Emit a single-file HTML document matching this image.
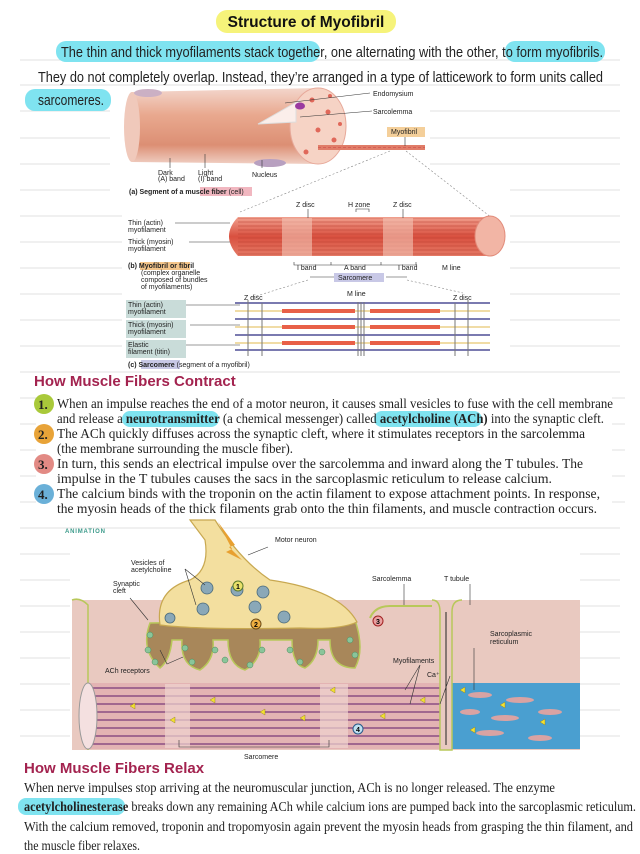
<!DOCTYPE html>
<html><head><meta charset="utf-8"><style>
html,body{margin:0;padding:0;background:#fff;}
svg{display:block;}
.hw{font-family:"Liberation Sans Narrow","Liberation Sans",sans-serif;font-size:15px;fill:#222;}
.lb{font-family:"Liberation Sans",sans-serif;font-size:7px;fill:#222;}
.sf{font-family:"Liberation Serif",serif;font-size:14px;fill:#222;}
.hd{font-family:"Liberation Sans",sans-serif;font-weight:bold;font-size:15px;fill:#a3234f;}
.num{font-family:"Liberation Serif",serif;font-weight:bold;font-size:13px;fill:#222;}
</style></head><body>
<svg width="640" height="854" viewBox="0 0 640 854" xmlns="http://www.w3.org/2000/svg">
<g stroke="#e2e2e2" stroke-width="1">
<line x1="20" y1="60" x2="620" y2="60"/>
<line x1="20" y1="85" x2="620" y2="85"/>
<line x1="20" y1="111" x2="110" y2="111"/><line x1="430" y1="111" x2="620" y2="111"/>
<line x1="20" y1="138" x2="110" y2="138"/><line x1="430" y1="138" x2="620" y2="138"/>
<line x1="20" y1="164" x2="110" y2="164"/><line x1="430" y1="164" x2="620" y2="164"/>
<line x1="20" y1="190" x2="110" y2="190"/><line x1="510" y1="190" x2="620" y2="190"/>
<line x1="20" y1="216" x2="122" y2="216"/><line x1="510" y1="216" x2="620" y2="216"/>
<line x1="20" y1="242" x2="122" y2="242"/><line x1="510" y1="242" x2="620" y2="242"/>
<line x1="20" y1="268" x2="122" y2="268"/><line x1="510" y1="268" x2="620" y2="268"/>
<line x1="20" y1="294" x2="122" y2="294"/><line x1="510" y1="294" x2="620" y2="294"/>
<line x1="20" y1="320" x2="122" y2="320"/><line x1="510" y1="320" x2="620" y2="320"/>
<line x1="20" y1="346" x2="122" y2="346"/><line x1="510" y1="346" x2="620" y2="346"/>
<line x1="20" y1="372" x2="620" y2="372"/>
<line x1="20" y1="398" x2="36" y2="398"/><line x1="612" y1="398" x2="625" y2="398"/>
<line x1="20" y1="424" x2="36" y2="424"/><line x1="612" y1="424" x2="625" y2="424"/>
<line x1="20" y1="450" x2="36" y2="450"/><line x1="612" y1="450" x2="625" y2="450"/>
<line x1="20" y1="476" x2="36" y2="476"/><line x1="612" y1="476" x2="625" y2="476"/>
<line x1="20" y1="502" x2="36" y2="502"/><line x1="612" y1="502" x2="625" y2="502"/>
<line x1="20" y1="528" x2="620" y2="528"/>
<line x1="20" y1="554" x2="70" y2="554"/><line x1="580" y1="554" x2="620" y2="554"/>
<line x1="20" y1="580" x2="70" y2="580"/><line x1="580" y1="580" x2="620" y2="580"/>
<line x1="20" y1="606" x2="70" y2="606"/><line x1="580" y1="606" x2="620" y2="606"/>
<line x1="20" y1="632" x2="70" y2="632"/><line x1="580" y1="632" x2="620" y2="632"/>
<line x1="20" y1="658" x2="70" y2="658"/><line x1="580" y1="658" x2="620" y2="658"/>
<line x1="20" y1="684" x2="70" y2="684"/><line x1="580" y1="684" x2="620" y2="684"/>
<line x1="20" y1="710" x2="70" y2="710"/><line x1="580" y1="710" x2="620" y2="710"/>
<line x1="20" y1="736" x2="70" y2="736"/><line x1="580" y1="736" x2="620" y2="736"/>
</g>

<rect x="216" y="10" width="180" height="23" rx="11" fill="#f6f37a"/>
<text x="306" y="27" text-anchor="middle" font-family="Liberation Sans,sans-serif" font-weight="bold" font-size="15.5" fill="#111">Structure of Myofibril</text>

<rect x="56" y="41" width="264" height="21" rx="10" fill="#7fe3f0"/>
<rect x="505" y="41" width="100" height="21" rx="10" fill="#7fe3f0"/>
<rect x="25" y="89" width="86" height="22" rx="10" fill="#7fe3f0"/>
<text class="hw" x="61" y="57" textLength="542" lengthAdjust="spacingAndGlyphs">The thin and thick myofilaments stack together, one alternating with the other, to form myofibrils.</text>
<text class="hw" x="38" y="82" textLength="565" lengthAdjust="spacingAndGlyphs">They do not completely overlap. Instead, they’re arranged in a type of latticework to form units called</text>
<text class="hw" x="38" y="105" textLength="66" lengthAdjust="spacingAndGlyphs">sarcomeres.</text>

<defs>
<linearGradient id="fib" x1="0" y1="0" x2="0" y2="1">
<stop offset="0" stop-color="#f3d6cc"/><stop offset="0.35" stop-color="#e9a98f"/><stop offset="0.75" stop-color="#dc8f74"/><stop offset="1" stop-color="#f0cfc3"/></linearGradient>
<linearGradient id="mf" x1="0" y1="0" x2="0" y2="1">
<stop offset="0" stop-color="#f1a08e"/><stop offset="0.5" stop-color="#d9503f"/><stop offset="1" stop-color="#e47a66"/></linearGradient>
<pattern id="stripes" width="6" height="4" patternUnits="userSpaceOnUse"><line x1="0" y1="2" x2="6" y2="2" stroke="#b83a2c" stroke-width="0.8"/></pattern>
</defs>
<!-- (a) -->
<path d="M132 92 L318 88 L318 164 L132 162 Z" fill="url(#fib)"/>
<ellipse cx="132" cy="127" rx="8" ry="35" fill="#f0c9bb"/>
<ellipse cx="148" cy="93" rx="14" ry="4" fill="#cbb0c4"/>
<ellipse cx="270" cy="163" rx="16" ry="4" fill="#b8a0c0"/>
<ellipse cx="318" cy="126" rx="28" ry="38" fill="#f6d3c5" stroke="#e7a99a"/>
<g fill="#e0685a"><circle cx="312" cy="100" r="2.5"/><circle cx="328" cy="112" r="2.5"/><circle cx="318" cy="130" r="2.5"/><circle cx="334" cy="140" r="2.5"/><circle cx="306" cy="152" r="2.5"/><circle cx="330" cy="96" r="2"/><circle cx="340" cy="124" r="2"/></g>
<path d="M300 100 L296 108 L296 122 L258 124 Z" fill="#fbeeea" stroke="#ddd"/>
<ellipse cx="300" cy="106" rx="5" ry="3.5" fill="#9a3aa0"/>
<rect x="318" y="145" width="107" height="5" fill="#e07d68"/>
<line x1="318" y1="147.5" x2="425" y2="147.5" stroke="#c44" stroke-width="0.6" stroke-dasharray="3 2"/>
<g stroke="#333" stroke-width="0.6"><line x1="285" y1="103" x2="370" y2="93"/><line x1="300" y1="117" x2="372" y2="111"/><line x1="405" y1="137" x2="405" y2="146"/><line x1="170" y1="158" x2="170" y2="168"/><line x1="205" y1="154" x2="205" y2="168"/><line x1="262" y1="160" x2="262" y2="168"/></g>
<text class="lb" x="373" y="96">Endomysium</text>
<text class="lb" x="373" y="114">Sarcolemma</text>
<rect x="387" y="127" width="38" height="10" fill="#f4cf9a"/>
<text class="lb" x="391" y="134">Myofibril</text>
<text class="lb" x="158" y="175">Dark</text><text class="lb" x="158" y="181">(A) band</text>
<text class="lb" x="198" y="175">Light</text><text class="lb" x="198" y="181">(I) band</text>
<text class="lb" x="252" y="177">Nucleus</text>
<rect x="200" y="187" width="52" height="9" fill="#f1b7c0"/>
<text class="lb" x="129" y="194" font-weight="bold">(a) Segment of a muscle fiber <tspan font-weight="normal">(cell)</tspan></text>
<g stroke="#888" stroke-width="0.6" stroke-dasharray="2 2" fill="none"><line x1="390" y1="151" x2="240" y2="212"/><line x1="406" y1="151" x2="492" y2="218"/><line x1="308" y1="280" x2="250" y2="298"/><line x1="407" y1="280" x2="463" y2="293"/></g>

<!-- (b) -->
<path d="M238 217 L490 217 L490 256 L238 256 Q220 236 238 217Z" fill="url(#mf)"/>
<rect x="238" y="218" width="252" height="38" fill="url(#stripes)" opacity="0.6"/>
<rect x="282" y="218" width="30" height="38" fill="#f3c4b6" opacity="0.6"/>
<rect x="383" y="218" width="30" height="38" fill="#f3c4b6" opacity="0.6"/>
<ellipse cx="490" cy="236" rx="15" ry="20" fill="#f2b5a5" stroke="#e28b7a"/>
<g stroke="#333" stroke-width="0.6" fill="none"><line x1="175" y1="223" x2="230" y2="223"/><line x1="189" y1="242" x2="230" y2="242"/>
<path d="M294 262 v3 h37 v-3 M331 265 h50 v-3 M381 265 h35 v-3"/><line x1="308" y1="209" x2="308" y2="218"/><line x1="403" y1="209" x2="403" y2="218"/><path d="M356 212 v-3 h13 v3"/>
<line x1="310" y1="277" x2="335" y2="277"/><line x1="386" y1="277" x2="407" y2="277"/></g>
<text class="lb" x="296" y="207">Z disc</text><text class="lb" x="348" y="207">H zone</text><text class="lb" x="393" y="207">Z disc</text>
<text class="lb" x="128" y="225">Thin (actin)</text><text class="lb" x="128" y="232">myofilament</text>
<text class="lb" x="128" y="244">Thick (myosin)</text><text class="lb" x="128" y="251">myofilament</text>
<rect x="140" y="262" width="50" height="8" fill="#f4c58a"/>
<text class="lb" x="128" y="268" font-weight="bold">(b) Myofibril or fibril</text>
<text class="lb" x="141" y="275">(complex organelle</text><text class="lb" x="141" y="282">composed of bundles</text><text class="lb" x="141" y="289">of myofilaments)</text>
<text class="lb" x="297" y="270">I band</text><text class="lb" x="344" y="270">A band</text><text class="lb" x="398" y="270">I band</text><text class="lb" x="442" y="270">M line</text>
<rect x="334" y="273" width="50" height="9" fill="#c8c8e6"/>
<text class="lb" x="338" y="280">Sarcomere</text>

<!-- (c) -->
<text class="lb" x="244" y="300">Z disc</text><text class="lb" x="347" y="296">M line</text><text class="lb" x="453" y="300">Z disc</text>
<g stroke="#7a7ab0" stroke-width="2"><line x1="235" y1="303" x2="490" y2="303"/><line x1="235" y1="319" x2="490" y2="319"/><line x1="235" y1="335" x2="490" y2="335"/><line x1="235" y1="350" x2="490" y2="350"/></g>
<g stroke="#e8c870" stroke-width="1.2"><line x1="235" y1="311" x2="490" y2="311"/><line x1="235" y1="327" x2="490" y2="327"/><line x1="235" y1="343" x2="490" y2="343"/></g>
<g stroke="#e86048" stroke-width="4"><line x1="282" y1="311" x2="355" y2="311"/><line x1="370" y1="311" x2="440" y2="311"/><line x1="282" y1="327" x2="355" y2="327"/><line x1="370" y1="327" x2="440" y2="327"/><line x1="282" y1="343" x2="355" y2="343"/><line x1="370" y1="343" x2="440" y2="343"/></g>
<g stroke="#777" stroke-width="1"><line x1="248" y1="300" x2="248" y2="356"/><line x1="262" y1="303" x2="262" y2="356"/><line x1="358" y1="302" x2="358" y2="356"/><line x1="361" y1="302" x2="361" y2="356"/><line x1="364" y1="302" x2="364" y2="356"/><line x1="455" y1="303" x2="455" y2="356"/><line x1="468" y1="300" x2="468" y2="356"/></g>
<rect x="126" y="300" width="60" height="18" fill="#c9dcd9"/><rect x="126" y="320" width="60" height="18" fill="#c9dcd9"/><rect x="126" y="340" width="60" height="18" fill="#c9dcd9"/>
<g stroke="#333" stroke-width="0.6"><line x1="186" y1="305" x2="240" y2="305"/><line x1="190" y1="325" x2="240" y2="325"/><line x1="186" y1="345" x2="240" y2="345"/></g>
<text class="lb" x="128" y="307">Thin (actin)</text><text class="lb" x="128" y="314">myofilament</text>
<text class="lb" x="128" y="327">Thick (myosin)</text><text class="lb" x="128" y="334">myofilament</text>
<text class="lb" x="128" y="347">Elastic</text><text class="lb" x="128" y="354">filament (titin)</text>
<rect x="141" y="360" width="39" height="9" fill="#c8c8e6"/>
<text class="lb" x="128" y="367" font-weight="bold">(c) Sarcomere <tspan font-weight="normal">(segment of a myofibril)</tspan></text>

<!-- Contract -->
<text class="hd" x="34" y="386">How Muscle Fibers Contract</text>
<rect x="122" y="411" width="97" height="16" rx="8" fill="#7fe3f0"/>
<rect x="374" y="411" width="108" height="16" rx="8" fill="#7fe3f0"/>
<circle cx="44" cy="404" r="10" fill="#a9c93a"/><text class="num" x="38" y="409">1.</text>
<circle cx="44" cy="434" r="10" fill="#e8a338"/><text class="num" x="38" y="439">2.</text>
<circle cx="44" cy="464" r="10" fill="#e28a84"/><text class="num" x="38" y="469">3.</text>
<circle cx="44" cy="494" r="10" fill="#6ab0d8"/><text class="num" x="38" y="499">4.</text>
<text class="sf" x="57" y="408" textLength="556" lengthAdjust="spacingAndGlyphs">When an impulse reaches the end of a motor neuron, it causes small vesicles to fuse with the cell membrane</text>
<text class="sf" x="57" y="423" textLength="547" lengthAdjust="spacingAndGlyphs">and release a <tspan font-weight="bold">neurotransmitter</tspan> (a chemical messenger) called <tspan font-weight="bold">acetylcholine (ACh)</tspan> into the synaptic cleft.</text>
<text class="sf" x="57" y="438" textLength="528" lengthAdjust="spacingAndGlyphs">The ACh quickly diffuses across the synaptic cleft, where it stimulates receptors in the sarcolemma</text>
<text class="sf" x="57" y="453" textLength="236" lengthAdjust="spacingAndGlyphs">(the membrane surrounding the muscle fiber).</text>
<text class="sf" x="57" y="468" textLength="526" lengthAdjust="spacingAndGlyphs">In turn, this sends an electrical impulse over the sarcolemma and inward along the T tubules. The</text>
<text class="sf" x="57" y="483" textLength="495" lengthAdjust="spacingAndGlyphs">impulse in the T tubules causes the sacs in the sarcoplasmic reticulum to release calcium.</text>
<text class="sf" x="57" y="498" textLength="543" lengthAdjust="spacingAndGlyphs">The calcium binds with the troponin on the actin filament to expose attachment points. In response,</text>
<text class="sf" x="57" y="513" textLength="540" lengthAdjust="spacingAndGlyphs">the myosin heads of the thick filaments grab onto the thin filaments, and muscle contraction occurs.</text>

<!-- Animation diagram -->
<text x="65" y="533" font-family="Liberation Sans,sans-serif" font-weight="bold" font-size="6" fill="#3a9a8a" letter-spacing="0.8">ANIMATION</text>
<rect x="72" y="600" width="508" height="150" fill="#e9c9c0"/>
<path d="M72 600 Q80 597 88 605 L88 750" fill="none" stroke="#b8c85a" stroke-width="1.5"/>
<rect x="88" y="683" width="355" height="66" fill="#e3b3b3"/>
<g stroke="#7a3a7a" stroke-width="1.3">
<line x1="92" y1="688" x2="440" y2="688"/><line x1="92" y1="696" x2="440" y2="696"/><line x1="92" y1="704" x2="440" y2="704"/><line x1="92" y1="712" x2="440" y2="712"/><line x1="92" y1="720" x2="440" y2="720"/><line x1="92" y1="728" x2="440" y2="728"/><line x1="92" y1="736" x2="440" y2="736"/><line x1="92" y1="744" x2="440" y2="744"/></g>
<rect x="165" y="684" width="25" height="64" fill="#f0d4d0" opacity="0.7"/><rect x="320" y="684" width="28" height="64" fill="#f0d4d0" opacity="0.7"/>
<ellipse cx="88" cy="716" rx="9" ry="33" fill="#f4e0e0" stroke="#999"/>
<rect x="447" y="683" width="133" height="66" fill="#4a9fd0"/>
<g fill="#d9a3a3"><ellipse cx="480" cy="695" rx="12" ry="3"/><ellipse cx="520" cy="700" rx="14" ry="3"/><ellipse cx="470" cy="712" rx="10" ry="3"/><ellipse cx="505" cy="718" rx="14" ry="3"/><ellipse cx="550" cy="712" rx="12" ry="3"/><ellipse cx="490" cy="733" rx="14" ry="3"/><ellipse cx="540" cy="738" rx="12" ry="3"/></g>
<path d="M432 600 Q440 600 440 612 L440 750 L452 750 L452 612 Q452 600 462 600" fill="#e9c9c0" stroke="#b8c85a" stroke-width="1.5"/>
<line x1="446" y1="612" x2="446" y2="745" stroke="#222" stroke-width="1"/>
<path d="M370 618 Q375 606 390 606 L432 606" fill="none" stroke="#b8c85a" stroke-width="2"/>
<path d="M150 623 Q140 650 160 668 Q170 660 172 640 L182 640 Q180 665 200 670 Q215 660 213 640 L228 640 Q228 665 245 670 Q262 660 260 640 L292 640 Q292 665 305 668 Q318 660 318 640 L330 640 Q330 668 355 668 Q365 650 355 620 Z" fill="#a8875a" stroke="#b8c85a" stroke-width="1.5"/>
<g fill="#8ac59a" stroke="#4a8a5a" stroke-width="0.5">
<circle cx="150" cy="635" r="3"/><circle cx="148" cy="650" r="3"/><circle cx="155" cy="662" r="3"/><circle cx="185" cy="648" r="3"/><circle cx="192" cy="662" r="3"/><circle cx="215" cy="650" r="3"/><circle cx="225" cy="660" r="3"/><circle cx="262" cy="650" r="3"/><circle cx="290" cy="650" r="3"/><circle cx="300" cy="662" r="3"/><circle cx="322" cy="652" r="3"/><circle cx="350" cy="640" r="3"/><circle cx="355" cy="655" r="3"/><circle cx="250" cy="665" r="3"/></g>
<path d="M190 520 L215 520 Q240 560 270 580 Q340 590 357 622 Q340 630 300 628 Q200 630 160 625 Q155 590 190 580 Q210 570 205 540 Z" fill="#f3df9f" stroke="#c8a850" stroke-width="1.2"/>
<path d="M218 522 L235 545 L229 547 L242 560 L226 552 L232 549 Z" fill="#e8a030"/>
<g fill="#8aa8b8" stroke="#4a6a7a" stroke-width="0.8"><circle cx="207" cy="588" r="6"/><circle cx="237" cy="590" r="6"/><circle cx="263" cy="592" r="6"/><circle cx="203" cy="609" r="6"/><circle cx="255" cy="607" r="6"/><circle cx="284" cy="617" r="6"/><circle cx="170" cy="618" r="5"/></g>
<circle cx="238" cy="586" r="5" fill="#e9e06a" stroke="#5a7a2a"/><text x="238" y="589" text-anchor="middle" font-family="Liberation Sans,sans-serif" font-size="7" font-weight="bold">1</text>
<circle cx="256" cy="624" r="5" fill="#f0b040" stroke="#6a4a1a"/><text x="256" y="627" text-anchor="middle" font-family="Liberation Sans,sans-serif" font-size="7" font-weight="bold">2</text>
<circle cx="378" cy="621" r="5" fill="#e9a0a0" stroke="#a02020"/><text x="378" y="624" text-anchor="middle" font-family="Liberation Sans,sans-serif" font-size="7" font-weight="bold">3</text>
<circle cx="358" cy="729" r="5" fill="#bfe0f0" stroke="#2a5a8a"/><text x="358" y="732" text-anchor="middle" font-family="Liberation Sans,sans-serif" font-size="7" font-weight="bold">4</text>
<g fill="#f2e030" stroke="#8a7a20" stroke-width="0.4"><path d="M130 706 l5 -3 0 6z"/><path d="M170 720 l5 -3 0 6z"/><path d="M210 700 l5 -3 0 6z"/><path d="M260 712 l5 -3 0 6z"/><path d="M300 718 l5 -3 0 6z"/><path d="M330 690 l5 -3 0 6z"/><path d="M380 716 l5 -3 0 6z"/><path d="M420 700 l5 -3 0 6z"/><path d="M460 690 l5 -3 0 6z"/><path d="M500 705 l5 -3 0 6z"/><path d="M540 722 l5 -3 0 6z"/><path d="M470 730 l5 -3 0 6z"/></g>
<g stroke="#333" stroke-width="0.6" fill="none"><line x1="268" y1="547" x2="248" y2="555"/><line x1="185" y1="569" x2="205" y2="585"/><line x1="185" y1="569" x2="196" y2="605"/><line x1="130" y1="598" x2="148" y2="620"/><path d="M160 650 L167 664 L183 657"/><line x1="404" y1="584" x2="404" y2="605"/><line x1="470" y1="584" x2="470" y2="605"/><line x1="474" y1="648" x2="474" y2="690"/><line x1="420" y1="665" x2="405" y2="690"/><line x1="420" y1="665" x2="410" y2="704"/><line x1="450" y1="676" x2="440" y2="704"/><path d="M179 740 v7 h150 v-7"/></g>
<text class="lb" x="275" y="542">Motor neuron</text>
<text class="lb" x="131" y="565">Vesicles of</text><text class="lb" x="131" y="572">acetylcholine</text>
<text class="lb" x="113" y="586">Synaptic</text><text class="lb" x="113" y="593">cleft</text>
<text class="lb" x="105" y="673">ACh receptors</text>
<text class="lb" x="372" y="581">Sarcolemma</text><text class="lb" x="444" y="581">T tubule</text>
<text class="lb" x="490" y="636">Sarcoplasmic</text><text class="lb" x="490" y="644">reticulum</text>
<text class="lb" x="393" y="663">Myofilaments</text><text class="lb" x="427" y="677">Ca⁺</text>
<rect x="240" y="752" width="40" height="8" fill="#fff"/>
<text class="lb" x="244" y="759">Sarcomere</text>

<!-- Relax -->
<text class="hd" x="24" y="773">How Muscle Fibers Relax</text>
<rect x="18" y="798" width="107" height="17" rx="8" fill="#7fe3f0"/>
<text class="sf" x="24" y="792" textLength="531" lengthAdjust="spacingAndGlyphs">When nerve impulses stop arriving at the neuromuscular junction, ACh is no longer released. The enzyme</text>
<text class="sf" x="24" y="811" textLength="612" lengthAdjust="spacingAndGlyphs"><tspan font-weight="bold">acetylcholinesterase</tspan> breaks down any remaining ACh while calcium ions are pumped back into the sarcoplasmic reticulum.</text>
<text class="sf" x="24" y="831" textLength="609" lengthAdjust="spacingAndGlyphs">With the calcium removed, troponin and tropomyosin again prevent the myosin heads from grasping the thin filament, and</text>
<text class="sf" x="24" y="850" textLength="116" lengthAdjust="spacingAndGlyphs">the muscle fiber relaxes.</text>
</svg>
</body></html>
